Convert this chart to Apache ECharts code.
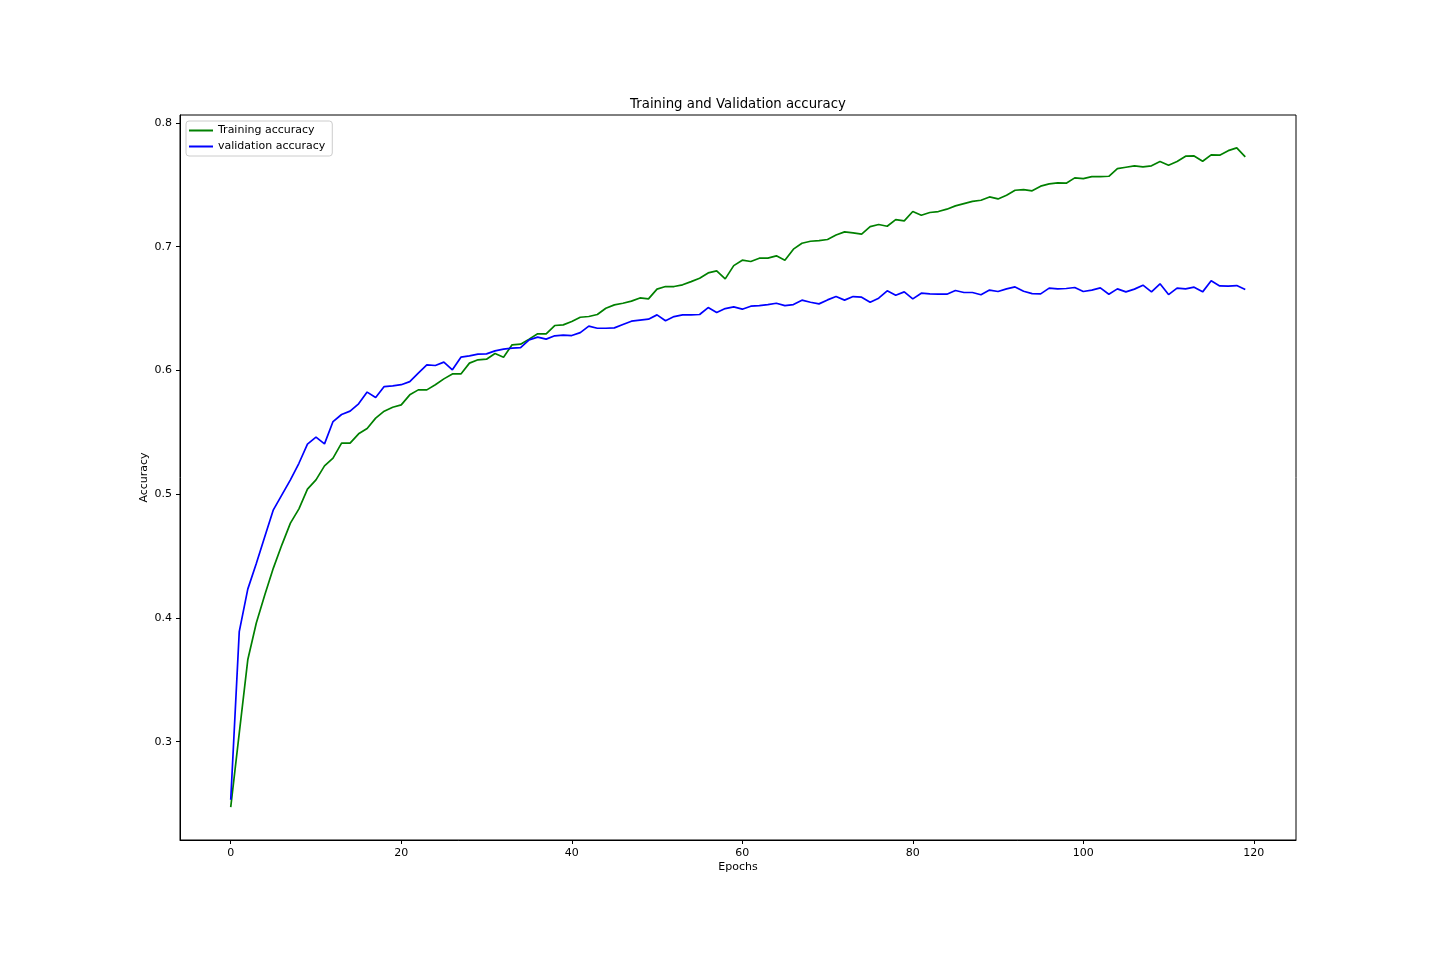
<!DOCTYPE html>
<html>
<head>
<meta charset="utf-8">
<title>Training and Validation accuracy</title>
<script src="https://cdn.jsdelivr.net/npm/echarts@6/dist/echarts.min.js"></script>
<style>
  html, body { margin: 0; padding: 0; background: #fff; }
  #main { width: 1440px; height: 960px; }
</style>
</head>
<body>
<div id="main"></div>
<script>
// accuracy per epoch
var trainAcc = [
  0.2472, 0.307, 0.3662, 0.3959, 0.4187, 0.4403, 0.4591, 0.4766, 0.4882, 0.5041,
  0.5116, 0.5229, 0.5291, 0.5413, 0.5413, 0.5488, 0.5531, 0.5615, 0.5671, 0.5703,
  0.5722, 0.5803, 0.5843, 0.5843, 0.5884, 0.5932, 0.5972, 0.5972, 0.6059, 0.6086,
  0.6091, 0.6137, 0.6107, 0.6207, 0.6212, 0.6253, 0.6296, 0.6296, 0.6363, 0.6368,
  0.6395, 0.643, 0.6436, 0.6452, 0.6503, 0.653, 0.6543, 0.656, 0.6586, 0.6578,
  0.6657, 0.6678, 0.6678, 0.6692, 0.6718, 0.6745, 0.6788, 0.6804, 0.674, 0.6847,
  0.6891, 0.688, 0.6907, 0.6907, 0.6926, 0.6891, 0.698, 0.7028, 0.7044, 0.7049,
  0.7058, 0.7095, 0.712, 0.7111, 0.7101, 0.7162, 0.7179, 0.7165, 0.7219, 0.7208,
  0.7284, 0.7254, 0.7276, 0.7284, 0.7303, 0.733, 0.7348, 0.7366, 0.7375, 0.7402,
  0.7386, 0.7416, 0.7456, 0.7461, 0.7451, 0.7489, 0.7507, 0.7515, 0.7513, 0.7556,
  0.755, 0.7566, 0.7566, 0.7569, 0.7631, 0.7642, 0.7653, 0.7645, 0.7653, 0.7688,
  0.7658, 0.7688, 0.7731, 0.7733, 0.769, 0.7742, 0.7739, 0.7776, 0.7798, 0.7725
];
var valAcc = [
  0.2531, 0.389, 0.4233, 0.444, 0.4658, 0.4874, 0.4995, 0.5116, 0.525, 0.5405,
  0.5461, 0.5407, 0.5587, 0.5644, 0.5671, 0.573, 0.5825, 0.5781, 0.587, 0.5876,
  0.5885, 0.591, 0.5979, 0.6045, 0.604, 0.6067, 0.6005, 0.6107, 0.6118, 0.6132,
  0.6134, 0.6158, 0.6172, 0.618, 0.6185, 0.6247, 0.6269, 0.6253, 0.628, 0.6285,
  0.6282, 0.6306, 0.6358, 0.6341, 0.6341, 0.6344, 0.6371, 0.6398, 0.6406, 0.6414,
  0.6449, 0.6401, 0.6435, 0.6449, 0.6449, 0.6452, 0.6508, 0.6468, 0.65, 0.6514,
  0.6495, 0.6519, 0.6524, 0.6532, 0.6543, 0.6524, 0.6532, 0.6568, 0.6551, 0.6538,
  0.657, 0.6597, 0.6568, 0.6597, 0.6592, 0.6551, 0.6584, 0.6643, 0.6608, 0.6635,
  0.6578, 0.6624, 0.6619, 0.6616, 0.6616, 0.6646, 0.663, 0.663, 0.6612, 0.6649,
  0.6638, 0.6659, 0.6675, 0.664, 0.6621, 0.6619, 0.6665, 0.6659, 0.6662, 0.667,
  0.6638, 0.6649, 0.6667, 0.6616, 0.6659, 0.6635, 0.6657, 0.6689, 0.6635, 0.67,
  0.6613, 0.6665, 0.6659, 0.6673, 0.6635, 0.6724, 0.6683, 0.6681, 0.6686, 0.6654
];
var xTicks = [0, 20, 40, 60, 80, 100, 120];
var yTicks = [0.3, 0.4, 0.5, 0.6, 0.7, 0.8];

function pairs(values) {
  return values.map(function (v, i) { return [i, v]; });
}

var font = 'DejaVu Sans';
var chart = echarts.init(document.getElementById('main'));
chart.setOption({
  animation: false,
  backgroundColor: '#fff',
  title: {
    text: 'Training and Validation accuracy',
    left: 738,
    textAlign: 'center',
    top: 98,
    padding: 0,
    textStyle: { fontFamily: font, fontSize: 13.3, fontWeight: 'normal', color: '#000' }
  },
  legend: {
    orient: 'vertical',
    left: 186,
    top: 121,
    padding: [3, 7, 3, 3],
    itemGap: 3,
    itemWidth: 24,
    itemHeight: 2,
    itemTextGap: 8,
    icon: 'rect',
    backgroundColor: 'rgba(255,255,255,0.8)',
    borderColor: '#cccccc',
    borderWidth: 1,
    borderRadius: 3,
    textStyle: { fontFamily: font, fontSize: 11, lineHeight: 13, color: '#000' },
    data: ['Training accuracy', 'validation accuracy']
  },
  grid: {
    left: 180,
    right: 144,
    top: 115,
    bottom: 120,
    show: true,
    borderColor: '#000',
    borderWidth: 1,
    containLabel: false
  },
  xAxis: {
    type: 'value',
    min: -5.95,
    max: 124.95,
    name: 'Epochs',
    nameLocation: 'middle',
    nameGap: 22,
    nameMoveOverlap: false,
    nameTextStyle: { fontFamily: font, fontSize: 11, color: '#000' },
    axisLine: { show: true, onZero: false, lineStyle: { color: '#000', width: 1 } },
    axisTick: { show: true, length: 4, lineStyle: { color: '#000' }, customValues: xTicks },
    axisLabel: { fontFamily: font, fontSize: 11, color: '#000', margin: 8, customValues: xTicks },
    splitLine: { show: false }
  },
  yAxis: {
    type: 'value',
    min: 0.2206,
    max: 0.8064,
    name: 'Accuracy',
    nameLocation: 'middle',
    nameRotate: 90,
    nameGap: 30,
    nameMoveOverlap: false,
    nameTextStyle: { fontFamily: font, fontSize: 11, color: '#000' },
    axisLine: { show: true, onZero: false, lineStyle: { color: '#000', width: 1 } },
    axisTick: { show: true, length: 4, lineStyle: { color: '#000' }, customValues: yTicks },
    axisLabel: {
      fontFamily: font, fontSize: 11, color: '#000', margin: 8, customValues: yTicks,
      formatter: function (v) { return v.toFixed(1); }
    },
    splitLine: { show: false }
  },
  series: [
    {
      name: 'Training accuracy',
      type: 'line',
      data: pairs(trainAcc),
      showSymbol: false,
      symbol: 'none',
      color: '#008000',
      lineStyle: { color: '#008000', width: 1.7 }
    },
    {
      name: 'validation accuracy',
      type: 'line',
      data: pairs(valAcc),
      showSymbol: false,
      symbol: 'none',
      color: '#0000ff',
      lineStyle: { color: '#0000ff', width: 1.7 }
    }
  ]
});
</script>
</body>
</html>
